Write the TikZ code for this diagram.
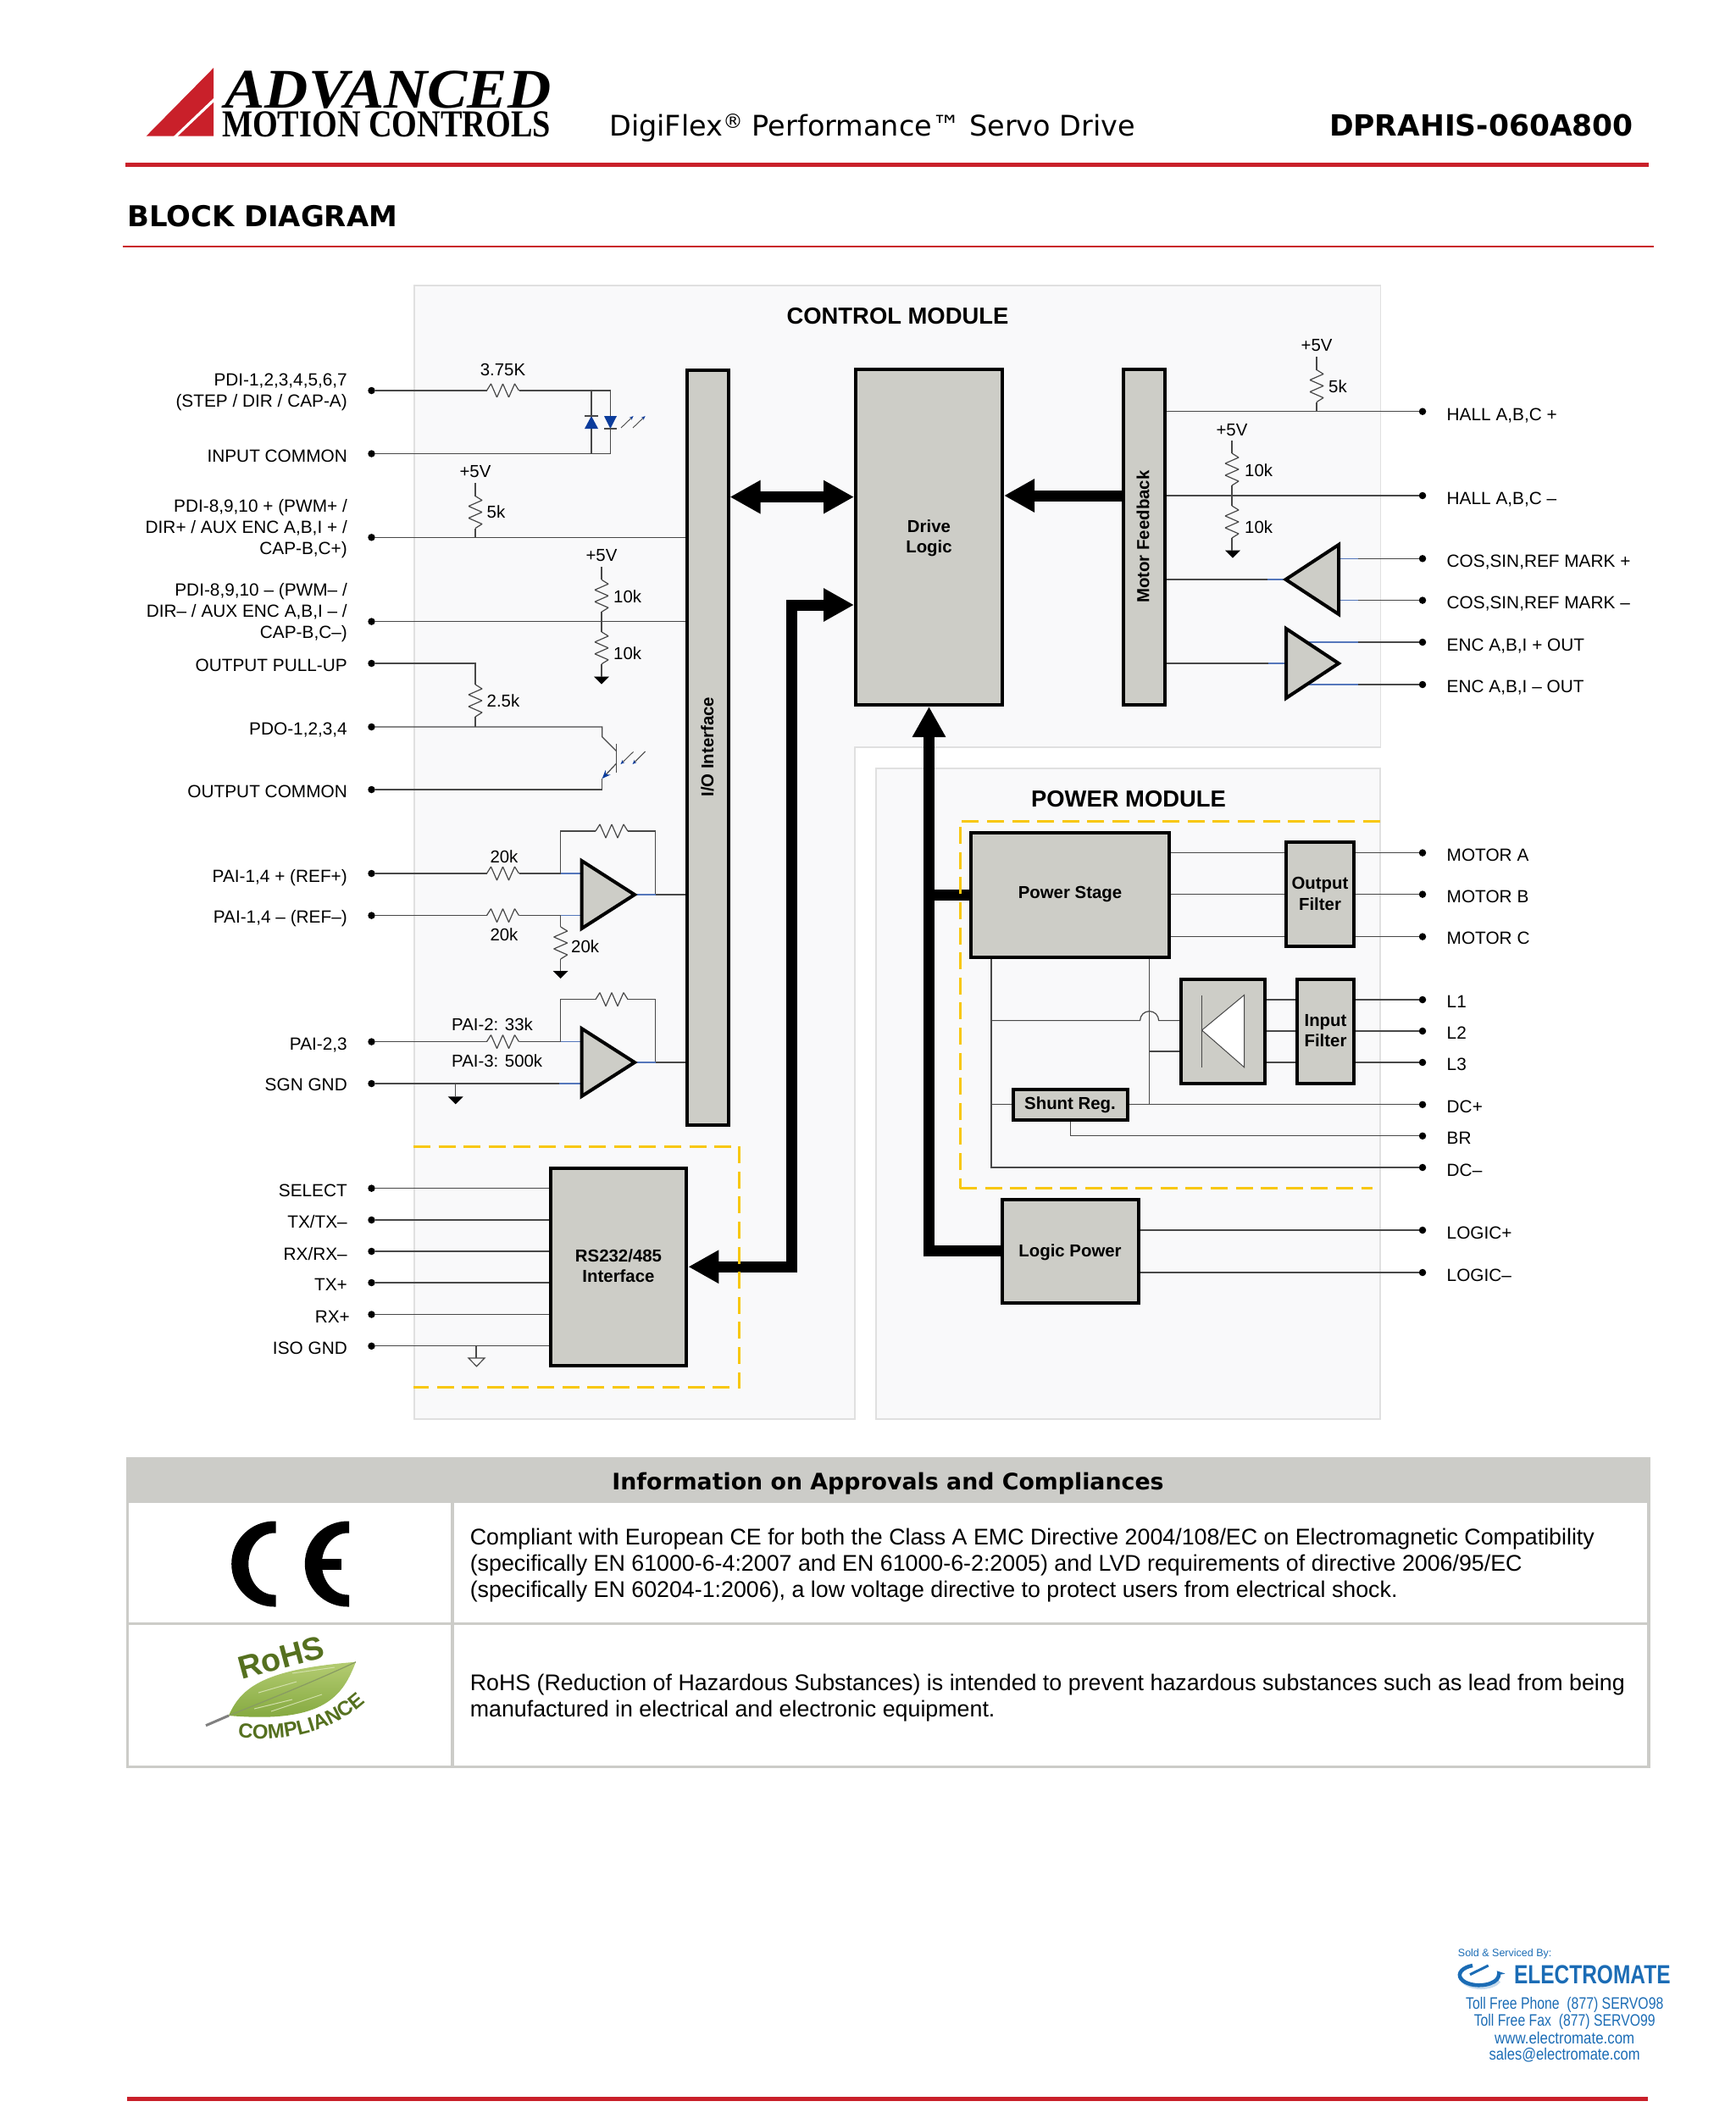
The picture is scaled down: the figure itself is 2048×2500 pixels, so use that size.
\documentclass[tikz,border=0pt]{standalone}
\usepackage{fontspec}
\setmainfont{Liberation Sans}
\newfontfamily\headfont{DejaVu Sans}
\newfontfamily\logofont{Liberation Serif}
\usepackage{xcolor}
\usetikzlibrary{positioning,arrows.meta,shapes,calc,decorations.text}
\definecolor{blockgray}{HTML}{CDCDC7}
\definecolor{panelgray}{HTML}{F9F9FA}
\definecolor{panelline}{HTML}{E0E0E0}
\definecolor{dashyellow}{HTML}{F8C70E}
\definecolor{amcred}{HTML}{C9202A}
\definecolor{wiregray}{HTML}{484848}
\definecolor{wireblue}{HTML}{5577BB}
\definecolor{ledblue}{HTML}{0B3C9C}
\definecolor{tablegray}{HTML}{CCCCC8}
\definecolor{rohsgreen}{HTML}{55701F}
\definecolor{leaftop}{HTML}{B4CC72}
\definecolor{leafbot}{HTML}{7FA53A}
\definecolor{emblue}{HTML}{1B6CB5}
\tikzset{
  wire/.style={draw=wiregray, line width=1.2pt},
  wireb/.style={draw=wireblue, line width=1.2pt},
  block/.style={draw=black, line width=4pt, fill=blockgray, inner sep=0pt},
  blocktxt/.style={font=\fontsize{20.4}{24.5}\selectfont\bfseries, align=center, inner sep=0pt},
  modtxt/.style={font=\fontsize{27.4}{32}\selectfont\bfseries, inner sep=0pt},
  lblleft/.style={font=\fontsize{20.8}{25}\selectfont, anchor=east, inner sep=0pt, text height=15pt, text depth=0pt},
  lblright/.style={font=\fontsize{20.8}{25}\selectfont, anchor=west, inner sep=0pt, text height=15pt, text depth=0pt},
  lblmulti/.style={font=\fontsize{20.8}{25}\selectfont, anchor=east, align=right, inner sep=0pt},
  valtxt/.style={font=\fontsize{20.4}{25}\selectfont, inner sep=0pt, text height=15pt, text depth=0pt},
  termdot/.style={circle, fill=black, inner sep=0pt, minimum size=8.5pt},
  amp/.style={draw=black, line width=4pt, fill=blockgray, line join=miter},
  dashbox/.style={draw=dashyellow, line width=3pt, dash pattern=on 20pt off 9.6pt},
  panel/.style={draw=panelline, line width=1.5pt, fill=panelgray},
  bus/.style={line width=13pt, draw=black},
  bushead/.style={{Triangle[length=36pt,width=37pt]}-{Triangle[length=36pt,width=37pt]}},
  busend/.style={-{Triangle[length=36pt,width=37pt]}},
  litearrow/.style={draw=wiregray, line width=0.9pt, -{Stealth[length=5pt,width=4pt,color=ledblue]}},
  bodytxt/.style={font=\fontsize{26.8}{31}\selectfont, anchor=west, align=left, inner sep=0pt},
  emtxt/.style={font=\fontsize{19.5}{20}\selectfont, text=emblue, inner sep=0pt, transform shape},
  resh/.pic={\draw[wire, line join=bevel] (-19,0) -- (-14,-8) -- (-7,8) -- (0,-8) -- (7,8) -- (14,-8) -- (19,0);
    \coordinate (-w) at (-19,0); \coordinate (-e) at (19,0);},
  resv/.pic={\draw[wire, line join=bevel] (0,-19) -- (8,-14) -- (-8,-7) -- (8,0) -- (-8,7) -- (8,14) -- (0,19);
    \coordinate (-n) at (0,-19); \coordinate (-s) at (0,19);},
  gnd/.pic={\fill[black] (-9,0) -- (9,0) -- (0,9) -- cycle; \coordinate (-n) at (0,0);},
}

\begin{document}
\begin{tikzpicture}[x=1pt, y=-1pt, >=Stealth]
\useasboundingbox (0,0) rectangle (2048,2500);

% Page header
\fill[amcred] (252.2,80) -- (172.6,160.7) -- (205,160.7) -- (252.2,115.7) -- cycle;
\fill[amcred] (210,160.7) -- (252.2,160.7) -- (252.2,120.7) -- cycle;
\node[font=\fontsize{66}{70}\selectfont\logofont\bfseries\itshape, inner sep=0pt, text height=44pt, text depth=0pt, xscale=1.075, transform shape] (advlogo) at (458,105.5) {ADVANCED};
\node[font=\fontsize{45}{50}\selectfont\logofont\bfseries, inner sep=0pt, text height=30pt, text depth=0pt, xscale=0.85, transform shape] (motlogo) at (456,146.5) {MOTION CONTROLS};
\node[font=\fontsize{33.5}{38}\selectfont\headfont, anchor=base west, inner sep=0pt] (prodname) at (719,160.5) {DigiFlex\textsuperscript{®} Performance™ Servo Drive};
\node[font=\fontsize{34.5}{38}\selectfont\headfont\bfseries, anchor=base east, inner sep=0pt] (partnum) at (1928,160.5) {DPRAHIS-060A800};
\draw[amcred, line width=5pt] (148,194.5) -- (1946,194.5);
\node[font=\fontsize{33.9}{38}\selectfont\headfont\bfseries, anchor=base west, inner sep=0pt] (blocktitle) at (150,267) {BLOCK DIAGRAM};
\draw[amcred, line width=2.2pt] (144.5,291) -- (1952,291);

% Module panels
\filldraw[panel] (489,337) -- (1629.5,337) -- (1629.5,882) -- (1009,882) -- (1009,1675) -- (489,1675) -- cycle;
\filldraw[panel] (1034,907) rectangle (1629,1675);
\node[modtxt] (ctrltitle) at (1059.5,373) {CONTROL MODULE};
\node[modtxt] (powtitle) at (1332,943) {POWER MODULE};

% Blocks
\node[block, minimum width=48.5pt, minimum height=891pt] (iobar) at (835.25,882.15) {};
\node[block, minimum width=173pt, minimum height=396pt] (drive) at (1096.5,634) {};
\node[block, minimum width=48.6pt, minimum height=396pt] (fbbar) at (1350.3,634) {};
\node[block, minimum width=160.8pt, minimum height=233.5pt] (rs) at (730,1495.25) {};
\node[block, minimum width=234pt, minimum height=147.4pt] (pstage) at (1263,1056.3) {};
\node[block, minimum width=80pt, minimum height=123pt] (ofilt) at (1558,1055.5) {};
\node[block, minimum width=99pt, minimum height=123pt] (rect) at (1443.5,1217) {};
\node[block, minimum width=67pt, minimum height=123pt] (ifilt) at (1564.5,1217) {};
\node[block, minimum width=135.4pt, minimum height=36.3pt] (shunt) at (1263.3,1303.8) {};
\node[block, minimum width=160.6pt, minimum height=122.2pt] (logic) at (1263.3,1476.9) {};
\node[blocktxt, rotate=90] (iotxt) at (835,881.6) {I/O Interface};
\node[blocktxt, rotate=90] (fbtxt) at (1349,633.6) {Motor Feedback};
\node[blocktxt] (drivetxt) at (1096.5,635.5) {Drive\\Logic};
\node[blocktxt] (rstxt) at (730,1494) {RS232/485\\Interface};
\node[blocktxt] (pstxt) at (1263,1056) {Power Stage};
\node[blocktxt] (ofilttxt) at (1558,1055) {Output\\Filter};
\node[blocktxt] (ifilttxt) at (1564.5,1216.5) {Input\\Filter};
\node[blocktxt] (shunttxt) at (1263,1304.5) {Shunt Reg.};
\node[blocktxt] (logictxt) at (1263,1478) {Logic Power};

% Left terminals
\foreach \nm/\yy in {pdia/461, inpc/535.5, pdib/634.3, pdic/733.6, oup/783, pdo/858, outc/932, pain/1031, paim/1080.6, paib/1229.6, sgn/1279, sel/1402.6, txm/1440, rxm/1477, txp/1514, rxp/1551.5, iso/1588.8}
  \node[termdot] (\nm) at (438.5,\yy) {};
\foreach \nm/\yy/\txt in {inpc/538/INPUT COMMON, oup/785.4/OUTPUT PULL-UP, pdo/859.7/{PDO-1,2,3,4}, outc/934/OUTPUT COMMON, pain/1033.7/{PAI-1,4 + (REF+)}, paim/1082/{PAI-1,4 – (REF–)}, paib/1231.6/{PAI-2,3}, sgn/1279.6/SGN GND, sel/1405/SELECT, txm/1442/{TX/TX–}, rxm/1479.6/{RX/RX–}, txp/1516/TX+, iso/1591/ISO GND}
  \node[lblleft] (lbl\nm) at (410,\yy) {\txt};
\node[lblleft] (lblrxp) at (413,1553.6) {RX+};
\node[lblmulti] (lblpdia) at (410,463) {PDI-1,2,3,4,5,6,7\\(STEP / DIR / CAP-A)};
\node[lblmulti] (lblpdib) at (410,624) {PDI-8,9,10 + (PWM+ /\\DIR+ / AUX ENC A,B,I + /\\CAP-B,C+)};
\node[lblmulti] (lblpdic) at (410,723) {PDI-8,9,10 – (PWM– /\\DIR– / AUX ENC A,B,I – /\\CAP-B,C–)};

% Right terminals
\foreach \nm/\yy in {hallp/485.7, halln/585, cosp/659.3, cosn/708.6, encp/758, encn/808, mota/1006.6, motb/1055.6, motc/1105.6, lone/1180, ltwo/1217, lthree/1254, dcp/1303.8, br/1340.8, dcn/1378, logp/1452, logn/1502}
  \node[termdot] (\nm) at (1679,\yy) {};
\foreach \nm/\yy/\txt in {hallp/488.6/{HALL A,B,C +}, halln/588/{HALL A,B,C –}, cosp/662/{COS,SIN,REF MARK +}, cosn/711/{COS,SIN,REF MARK –}, encp/760.7/{ENC A,B,I + OUT}, encn/810.4/{ENC A,B,I – OUT}, mota/1008.7/MOTOR A, motb/1058/MOTOR B, motc/1107/MOTOR C, lone/1182/L1, ltwo/1219/L2, lthree/1256/L3, dcp/1306/DC+, br/1343/BR, dcn/1380.6/DC–, logp/1454.6/LOGIC+, logn/1504.6/LOGIC–}
  \node[lblright] (lbl\nm) at (1707.5,\yy) {\txt};

% PDI-1..7 input with opto pair
\pic (rpdi) at (593.5,461) {resh};
\node[valtxt] (vpdi) at (593.5,436) {3.75K};
\coordinate (leda) at (698,461);
\coordinate (ledb) at (720.4,461);
\draw[wire] (pdia) -- (rpdi-w) (rpdi-e) -- (ledb) |- (inpc);
\draw[wire] (leda) -- (leda |- inpc);
\fill[ledblue] (690,506) -- (706,506) -- (698,491) -- cycle;
\fill[ledblue] (713,491) -- (728,491) -- (720.4,506) -- cycle;
\draw[wire] (690,491) -- (706,491);
\draw[wire] (713,506) -- (728,506);
\draw[litearrow] (733,505) -- (747.6,491);
\draw[litearrow] (747,505) -- (761.6,491);

% PDI-8..10 inputs
\coordinate (vbtop) at (561,570);
\node[valtxt] (vbfive) at (561,556) {+5V};
\pic (rpdib) at (561,604.5) {resv};
\node[valtxt, anchor=west] (vbk) at (574.5,604) {5k};
\draw[wire] (pdib) -- (pdib -| iobar.west);
\draw[wire] (vbtop) -- (rpdib-n) (rpdib-s) -- (rpdib-s |- pdib);
\coordinate (vctop) at (710,669);
\node[valtxt] (vcfive) at (710,655) {+5V};
\pic (rpdic) at (710,703.3) {resv};
\pic (rpdid) at (710,764.8) {resv};
\pic (gndc) at (710,798.5) {gnd};
\node[valtxt, anchor=west] (vck) at (724,703.5) {10k};
\node[valtxt, anchor=west] (vdk) at (724,770.8) {10k};
\draw[wire] (pdic) -- (pdic -| iobar.west);
\draw[wire] (vctop) -- (rpdic-n) (rpdic-s) -- (rpdid-n) (rpdid-s) -- (gndc-n);

% Outputs
\pic (rpull) at (561,827) {resv};
\node[valtxt, anchor=west] (vpull) at (574.5,827) {2.5k};
\coordinate (qcoll) at (710.7,869.6);
\coordinate (qemit) at (710.7,919);
\draw[wire] (oup) -| (rpull-n);
\draw[wire] (rpull-s) -- (rpull-s |- pdo);
\draw[wire] (pdo) -| (qcoll) -- (727.7,886.6);
\draw[wire] (727.7,877.5) -- (727.7,912);
\draw[wire, -{Stealth[length=10pt,width=8pt,color=ledblue]}] (727.7,901) -- (qemit);
\draw[wire] (qemit) |- (outc);
\draw[litearrow] (747.5,887.4) -- (732.5,902);
\draw[litearrow] (761.6,887) -- (746.6,902);

% PAI-1,4 amplifier
\pic (rpaa) at (593.5,1031) {resh};
\pic (rpab) at (593.5,1080.6) {resh};
\pic (rpac) at (661.7,1113) {resv};
\pic (rpfa) at (722,981) {resh};
\pic (gndpa) at (661.7,1146) {gnd};
\node[valtxt] (vpaa) at (595,1010.7) {20k};
\node[valtxt] (vpab) at (595,1103) {20k};
\node[valtxt, anchor=west] (vpac) at (674,1117) {20k};
\coordinate (afbl) at (661.7,1031);
\coordinate (afbm) at (661.7,1080.6);
\coordinate (afbr) at (773.7,1056);
\draw[wire] (pain) -- (rpaa-w) (rpaa-e) -- (afbl);
\draw[wire] (paim) -- (rpab-w) (rpab-e) -- (afbm);
\draw[wire] (afbm) -- (rpac-n) (rpac-s) -- (gndpa-n);
\draw[wire] (afbl) |- (rpfa-w) (rpfa-e) -| (afbr);
\draw[wire] (afbr) -- (afbr -| iobar.west);
\draw[wireb] (afbl) -- (686,1031) (afbm) -- (686,1080.6) (afbr) -- (746,1056);
\draw[amp] (686.5,1016) -- (749,1056) -- (686.5,1096) -- cycle;

% PAI-2,3 amplifier
\pic (rpad) at (593.5,1229.6) {resh};
\pic (rpfb) at (722,1179.6) {resh};
\pic (gndpb) at (537.7,1294.4) {gnd};
\node[valtxt, anchor=west] (vpad) at (533,1208.7) {PAI-2: 33k};
\node[valtxt, anchor=west] (vpae) at (533,1251.5) {PAI-3: 500k};
\coordinate (bfbl) at (661.7,1229.6);
\coordinate (bfbr) at (773.7,1254);
\draw[wire] (paib) -- (rpad-w) (rpad-e) -- (bfbl);
\draw[wire] (sgn) -- (660,1279);
\draw[wire] (gndpb-n |- sgn) -- (gndpb-n);
\draw[wire] (bfbl) |- (rpfb-w) (rpfb-e) -| (bfbr);
\draw[wire] (bfbr) -- (bfbr -| iobar.west);
\draw[wireb] (bfbl) -- (686,1229.6) (660,1279) -- (686,1279) (bfbr) -- (746,1254);
\draw[amp] (686.5,1214) -- (749,1254) -- (686.5,1294) -- cycle;

% RS232/485 lines
\foreach \nm in {sel,txm,rxm,txp,rxp,iso}
  \draw[wire] (\nm) -- (\nm -| rs.west);
\coordinate (gndiso) at (562,1603);
\draw[wire] (gndiso |- iso) -- (gndiso);
\draw[wire] (553,1603) -- (572,1603) -- (562.5,1612.7) -- cycle;

% Motor feedback side
\pic (rhall) at (1554,455.5) {resv};
\coordinate (hallvcc) at (1554,421);
\node[valtxt] (vhfive) at (1554,407) {+5V};
\node[valtxt, anchor=west] (vhk) at (1568,455.7) {5k};
\draw[wire] (hallp -| fbbar.east) -- (hallp);
\draw[wire] (hallvcc) -- (rhall-n) (rhall-s) -- (rhall-s |- hallp);
\pic (rhalla) at (1454,554) {resv};
\pic (rhallb) at (1454,616) {resv};
\pic (gndh) at (1455,649.6) {gnd};
\coordinate (hallvdd) at (1454,520);
\node[valtxt] (vifive) at (1454,506.8) {+5V};
\node[valtxt, anchor=west] (viak) at (1469,555) {10k};
\node[valtxt, anchor=west] (vibk) at (1469,622) {10k};
\draw[wire] (halln -| fbbar.east) -- (halln);
\draw[wire] (hallvdd) -- (rhalla-n) (rhalla-s) -- (rhallb-n) (rhallb-s) -- (1454,649.6);
\coordinate (cosin) at (1516,684);
\coordinate (encin) at (1517.5,783);
\draw[wire] (cosin -| fbbar.east) -- (1496,684);
\draw[wireb] (1496,684) -- (cosin);
\draw[wire] (encin -| fbbar.east) -- (1497,783);
\draw[wireb] (1497,783) -- (encin);
\draw[wire] (cosp) -- (1603,659.3) (cosn) -- (1603,708.6) (encp) -- (1603,758) (encn) -- (1603,808);
\draw[wireb] (1580,659.3) -- (1603,659.3) (1580,708.6) -- (1603,708.6) (1540,758) -- (1603,758) (1540,808) -- (1603,808);
\draw[amp] (1517.5,684) -- (1580,643) -- (1580,725) -- cycle;
\draw[amp] (1518,742) -- (1580,783) -- (1518,824) -- cycle;

% Power module wiring
\foreach \nm in {mota,motb,motc}
  \draw[wire] (\nm -| pstage.east) -- (\nm -| ofilt.west) (\nm -| ofilt.east) -- (\nm);
\foreach \nm in {lone,ltwo,lthree}
  \draw[wire] (\nm -| rect.east) -- (\nm -| ifilt.west) (\nm -| ifilt.east) -- (\nm);
\coordinate (busn) at (1170,1132);
\coordinate (busp) at (1356.5,1132);
\coordinate (hopl) at (1170,1204.6);
\coordinate (rectb) at (1356.5,1241);
\draw[wire] (busn) |- (dcn);
\draw[wire] (busp) -- (busp |- dcp);
\draw[wire] (shunt.east) -- (dcp);
\draw[wire] (shunt.west) -- (shunt.west -| busn);
\draw[wire] (shunt.south) |- (br);
\draw[wire] (hopl) -- (1345.6,1204.6) arc[start angle=180, end angle=0, radius=11pt] -- (hopl -| rect.west);
\draw[wire] (rectb) -- (rectb -| rect.west);
\draw[line width=1pt, draw=wiregray, fill=white] (1418.5,1216) -- (1468.5,1174.5) -- (1468.5,1259.7) -- cycle;
\draw[line width=1pt, draw=wiregray] (1418.5,1174.5) -- (1418.5,1259.7);
\draw[wire] (logp -| logic.east) -- (logp);
\draw[wire] (logn -| logic.east) -- (logn);

% Thick buses
\coordinate (fbarrow) at (1250,585);
\coordinate (ioarrow) at (935,586.6);
\coordinate (rsbus) at (934,714);
\draw[bus, busend] (fbarrow -| fbbar.west) -- (fbarrow -| drive.east);
\draw[bus, bushead] (ioarrow -| iobar.east) -- (ioarrow -| drive.west);
\draw[bus, bushead] (rs.east) -| (rsbus) -- (rsbus -| drive.west);
\draw[bus, busend] (logic.west) -| (drive.south);
\draw[bus] (pstage.west) -- (pstage.west -| drive.south);

% Isolation boundaries
\draw[dashbox] (488,1353) -- (872.6,1353) -- (872.6,1637.8) -- (488,1637.8);
\draw[dashbox] (1629,969) -- (1133,969) -- (1133,1402.6);
\draw[dashbox] (1133,1402.6) -- (1620,1402.6);

% Approvals table
\fill[tablegray] (149,1720) rectangle (1947.5,1774);
\draw[tablegray, line width=3.5pt] (150.7,1774) -- (150.7,2085.7) -- (1946,2085.7) -- (1946,1774);
\draw[tablegray, line width=3.5pt] (150.7,1916.7) -- (1946,1916.7);
\draw[tablegray, line width=3.5pt] (534,1774) -- (534,2085.7);
\node[font=\fontsize{26.8}{32}\selectfont\headfont\bfseries, inner sep=0pt] (tabletitle) at (1048,1751) {Information on Approvals and Compliances};
\node[bodytxt] (cetxt) at (554.6,1848) {Compliant with European CE for both the Class A EMC Directive 2004/108/EC on Electromagnetic Compatibility\\(specifically EN 61000-6-4:2007 and EN 61000-6-2:2005) and LVD requirements of directive 2006/95/EC\\(specifically EN 60204-1:2006), a low voltage directive to protect users from electrical shock.};
\node[bodytxt] (rohstxt) at (554.6,2004) {RoHS (Reduction of Hazardous Substances) is intended to prevent hazardous substances such as lead from being\\manufactured in electrical and electronic equipment.};

% CE mark
\fill[black] (325.7,1795.5) -- (323.7,1795.5) arc[start angle=90, end angle=270, radius=50.5pt] -- (325.7,1896.5) -- (325.7,1882.5) -- (323.8,1882.5) arc[start angle=270, end angle=90, x radius=30.5pt, y radius=36.5pt] -- (325.7,1809.5) -- cycle;
\fill[black] (412,1795.5) -- (410.3,1795.5) arc[start angle=90, end angle=270, radius=50.5pt] -- (412,1896.5) -- (412,1882.5) -- (410.4,1882.5) arc[start angle=270, end angle=90, x radius=30.5pt, y radius=36.5pt] -- (412,1809.5) -- cycle;
\fill[black] (368,1840) rectangle (402.7,1852.7);

% RoHS mark
\draw[gray, line width=3pt] (243,2036.7) -- (270,2025);
\shade[top color=leaftop, bottom color=leafbot] (270,2025) .. controls (285,1990) and (315,1970) .. (420,1961.7) .. controls (405,2000) and (385,2035) .. (270,2025) -- cycle;
\draw[rohsgreen!70, line width=1.2pt] (270,2025) .. controls (320,2005) and (370,1985) .. (420,1961.7);
\draw[leaftop!60!white, line width=1pt] (300,2017) -- (345,2006) (320,2020) -- (380,2000) (305,1998) -- (350,1985) (345,1975) -- (395,1968);
\node[font=\fontsize{38}{40}\selectfont\bfseries, text=rohsgreen, rotate=15, inner sep=0pt] (rohslogo) at (331.7,1956.7) {RoHS};
\path[decorate, decoration={text along path, text align=center, text={|\fontsize{24}{26}\selectfont\bfseries\color{rohsgreen}|COMPLIANCE}}] (277,2050) .. controls (340,2060) and (400,2040) .. (434,2006);

% Distributor block
\node[font=\fontsize{12.5}{14}\selectfont, text=emblue, anchor=west, inner sep=0pt] (soldby) at (1720.7,2306.7) {Sold \& Serviced By:};
\draw[emblue!25, line width=4pt] (1725,2334) arc[start angle=180, end angle=340, x radius=23pt, y radius=12pt];
\draw[emblue, line width=4.5pt, -{Stealth[length=9pt,width=10pt]}] (1738,2320) arc[start angle=110, end angle=385, x radius=23pt, y radius=12pt];
\draw[emblue, line width=3pt] (1735,2330.7) -- (1756.7,2320);
\node[font=\fontsize{31}{34}\selectfont\bfseries, text=emblue, xscale=0.79, transform shape, inner sep=0pt] (emname) at (1879.3,2330.5) {ELECTROMATE};
\node[emtxt, xscale=0.81] (emphone) at (1846.7,2366) {Toll Free Phone\ \ (877) SERVO98};
\node[emtxt, xscale=0.81] (emfax) at (1846.7,2386) {Toll Free Fax\ \ (877) SERVO99};
\node[emtxt, xscale=0.865] (emweb) at (1846.7,2405.7) {www.electromate.com};
\node[emtxt, xscale=0.85] (emmail) at (1846.7,2425.7) {sales@electromate.com};
\draw[amcred, line width=5pt] (150,2477.7) -- (1945,2477.7);

\end{tikzpicture}
\end{document}
